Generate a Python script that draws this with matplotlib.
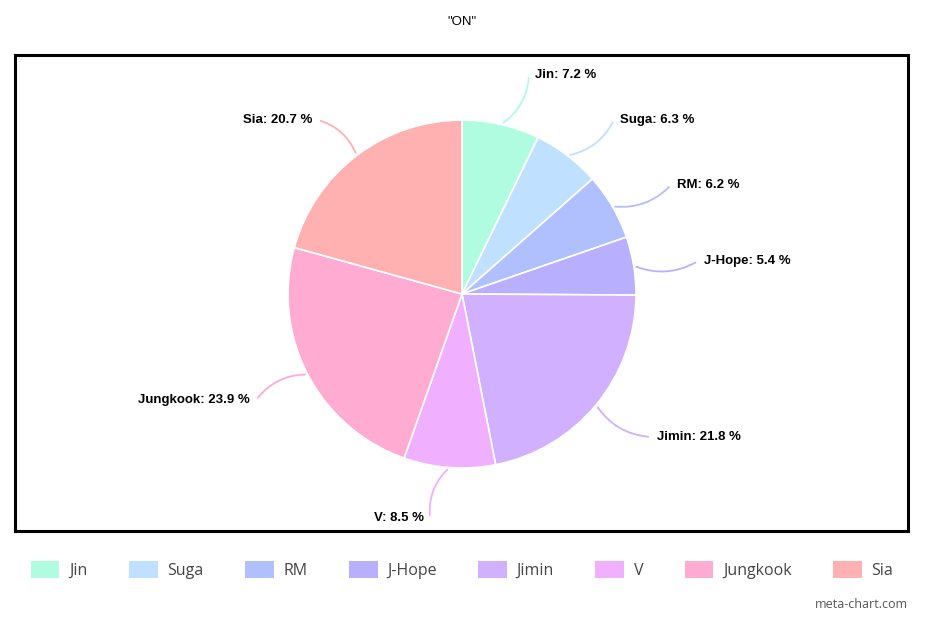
import matplotlib
matplotlib.use("Agg")
import matplotlib.pyplot as plt
import numpy as np
from matplotlib.patches import Patch

labels = ["Jin", "Suga", "RM", "J-Hope", "Jimin", "V", "Jungkook", "Sia"]
values = [7.2, 6.3, 6.2, 5.4, 21.8, 8.5, 23.9, 20.7]
colors = ["#b0fce0", "#c0e0ff", "#b0c0ff", "#b8b0ff", "#d0b0ff", "#f0b0ff", "#ffabd2", "#ffb0b0"]
label_xy = [(520, 456), (605, 411), (662, 346), (689, 270), (642, 94), (409, 13), (235, 131), (297, 411)]
label_ha = ["left"] * 5 + ["right"] * 3

fig = plt.figure(figsize=(9.25, 6.17), dpi=100)
ax = fig.add_axes([15/925, 86/617, 893/925, 476/617])

cx, cy, r = 447, 237, 174
wedges, _ = ax.pie(values, colors=colors, startangle=90, counterclock=False,
                   center=(cx, cy), radius=r, frame=True,
                   wedgeprops=dict(edgecolor="white", linewidth=1.2))
ax.set_xlim(0, 893); ax.set_ylim(0, 476); ax.set_aspect("equal")
ax.set_xticks([]); ax.set_yticks([])
for s in ax.spines.values():
    s.set_linewidth(2.2)

for w, lab, v, c, (tx, ty), ha in zip(wedges, labels, values, colors, label_xy, label_ha):
    ang = np.deg2rad((w.theta1 + w.theta2) / 2)
    px, py = cx + r * np.cos(ang), cy + r * np.sin(ang)
    ex = tx - 6 if ha == "left" else tx + 6
    ax.annotate("", xy=(px, py), xytext=(ex, ty),
                arrowprops=dict(arrowstyle="-", color=c, lw=1.3,
                                connectionstyle="arc3,rad=-0.25"))
    ax.text(tx, ty, f"{lab}: {v} %", ha=ha, va="center", fontsize=9.5,
            fontweight="bold", family="Liberation Sans")

fig.text(462/925, 1 - 22/617, '"ON"', ha="center", va="center", fontsize=9.5, family="Liberation Sans")
handles = [Patch(facecolor=c, edgecolor="none") for c in colors]
fig.legend(handles, labels, loc="center", bbox_to_anchor=(462/925, 1 - 570/617), ncol=8,
           frameon=False, handlelength=1.8, handleheight=1.2, columnspacing=2.6,
           handletextpad=0.6, labelcolor="#444444", prop={"family": "Open Sans", "size": 11.5})
fig.text(908/925, 1 - 604/617, "meta-chart.com", ha="right", va="center", fontsize=9,
         color="#555555", family="Open Sans")
fig.savefig("out.png", dpi=100)
